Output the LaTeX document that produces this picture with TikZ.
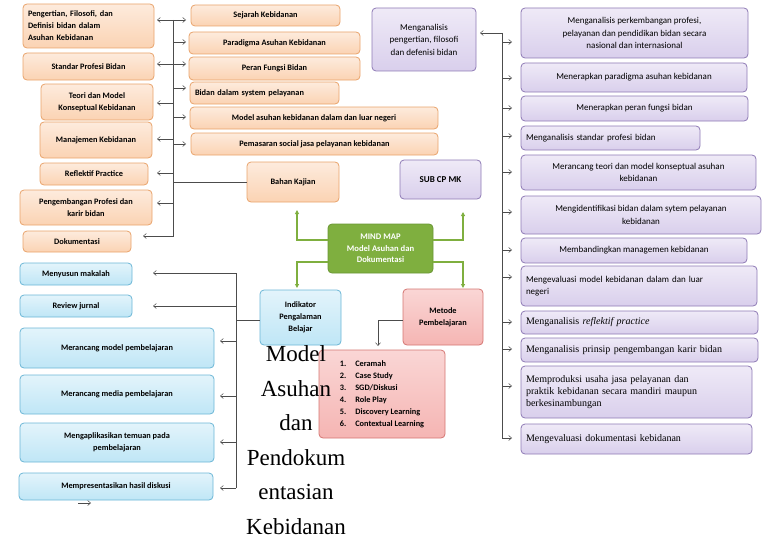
\documentclass[tikz,border=0pt]{standalone}
\usepackage{fontspec}
\setmainfont{Carlito}
\newfontfamily\serif{Liberation Serif}
\usetikzlibrary{arrows.meta}
\definecolor{orF}{HTML}{FBD3B3}\definecolor{orT}{HTML}{FDEBDD}\definecolor{orD}{HTML}{E9A36B}
\definecolor{puF}{HTML}{D9CFEC}\definecolor{puT}{HTML}{EFEAF7}\definecolor{puD}{HTML}{8E7AB5}
\definecolor{blF}{HTML}{BFE6F6}\definecolor{blT}{HTML}{E3F4FB}\definecolor{blD}{HTML}{6BB6D6}
\definecolor{gnF}{HTML}{7FAF3F}\definecolor{gnD}{HTML}{6A9634}
\definecolor{pkF}{HTML}{F5B5B3}\definecolor{pkT}{HTML}{FAD6D5}\definecolor{pkD}{HTML}{D57672}
\tikzset{
 base/.style={rounded corners=4pt, line width=0.8pt, inner sep=2pt, align=center, font=\fontsize{8.3}{12}\selectfont\bfseries},
 ob/.style={base, draw=orD, top color=orT, bottom color=orF},
 pb/.style={base, draw=puD, top color=puT, bottom color=puF, font=\fontsize{9}{12.5}\selectfont},
 sb/.style={pb, font=\serif\fontsize{10}{12}\selectfont},
 bb/.style={base, draw=blD, top color=blT, bottom color=blF},
 gb/.style={base, draw=gnD, fill=gnF, text=white, font=\fontsize{8.6}{11.5}\selectfont\bfseries},
 kb/.style={base, draw=pkD, top color=pkT, bottom color=pkF},
 arr/.style={-{Straight Barb[length=3pt,width=5pt]}, draw=gray!60!black, line width=0.5pt},
 ln/.style={draw=gray!60!black, line width=0.8pt},
 garr/.style={-{Triangle[length=4pt,width=4pt]}, draw=gnF, line width=1.8pt},
}
\newcommand{\bx}[8][center]{%
 \pgfmathsetmacro\bw{#6-#4}\pgfmathsetmacro\bh{#7-#5}%
 \node[#3, minimum width=\bw pt, minimum height=\bh pt, align=#1] (#2) at ({(#4+#6)/2},{(#5+#7)/2}) {#8};}
\newcommand{\lbx}[7]{%
 \pgfmathsetmacro\bw{#5-#3}\pgfmathsetmacro\bh{#6-#4}\pgfmathsetmacro\tw{#5-#3-10}%
 \node[#2, minimum width=\bw pt, minimum height=\bh pt, text width=\tw pt, align=left] (#1) at ({(#3+#5)/2},{(#4+#6)/2}) {#7};}
\begin{document}
\begin{tikzpicture}[x=1pt,y=-1pt]
\useasboundingbox (0,0) rectangle (768,543);
% left orange
\lbx{o1}{ob}{23}{4}{154}{48}{Pengertian, Filosofi, dan\\Definisi bidan dalam\\Asuhan Kebidanan}
\bx{o2}{ob}{23}{53}{154}{80}{Standar Profesi Bidan}
\bx{o3}{ob}{41}{84}{153}{120}{Teori dan Model\\Konseptual Kebidanan}
\bx{o4}{ob}{40}{122}{152}{158}{Manajemen Kebidanan}
\bx{o5}{ob}{40}{163}{148}{185}{Reflektif Practice}
\bx{o6}{ob}{20}{190}{152}{225}{Pengembangan Profesi dan\\karir bidan}
\bx{o7}{ob}{23}{231}{131}{252}{Dokumentasi}
% middle orange
\bx{m1}{ob}{191}{5}{340}{26}{Sejarah Kebidanan}
\bx{m2}{ob}{189}{32}{360}{54}{Paradigma Asuhan Kebidanan}
\bx{m3}{ob}{189}{57}{360}{80}{Peran Fungsi Bidan}
\lbx{m4}{ob}{190}{82}{339}{104}{Bidan dalam system pelayanan}
\bx{m5}{ob}{190}{107}{438}{129}{Model asuhan kebidanan dalam dan luar negeri}
\bx{m6}{ob}{191}{133}{438}{155}{Pemasaran social jasa pelayanan kebidanan}
\bx{bk}{ob}{247}{162}{339}{202}{Bahan Kajian}
\draw[ln] (173,20) -- (173,237);
\draw[ln] (173,182) -- (bk.west);
\foreach \y in {20,64,103,139,173,203}{\draw[arr] (173,\y) -- (157,\y);}
\draw[arr] (173,236) -- (143,236);
\foreach \y in {20,42,64,88,117,144}{\draw[arr] (173,\y) -- (186,\y);}
% purple
\bx{p0}{pb}{372}{8}{476}{71}{Menganalisis\\pengertian, filosofi\\dan defenisi bidan}
\bx{sub}{pb}{400}{160}{481}{199}{\bfseries SUB CP MK}
\bx{r1}{pb}{521}{8}{748}{58}{Menganalisis perkembangan profesi,\\pelayanan dan pendidikan bidan secara\\nasional dan internasional}
\bx{r2}{pb}{521}{63}{747}{92}{Menerapkan paradigma asuhan kebidanan}
\bx{r3}{pb}{521}{96}{748}{121}{Menerapkan peran fungsi bidan}
\lbx{r4}{pb}{521}{126}{700}{150}{Menganalisis standar profesi bidan}
\bx{r5}{pb}{521}{155}{756}{190}{Merancang teori dan model konseptual asuhan\\kebidanan}
\bx{r6}{pb}{521}{196}{761}{234}{Mengidentifikasi bidan dalam sytem pelayanan\\kebidanan}
\bx{r7}{pb}{521}{238}{747}{263}{Membandingkan managemen kebidanan}
\lbx{r8}{pb}{521}{266}{757}{306}{Mengevaluasi model kebidanan dalam dan luar\\negeri}
\lbx{r9}{sb}{521}{311}{758}{334}{Menganalisis \textit{reflektif practice}}
\lbx{r10}{sb}{521}{338}{758}{362}{Menganalisis prinsip pengembangan karir bidan}
\lbx{r11}{sb}{521}{366}{752}{418}{Memproduksi usaha jasa pelayanan dan\\praktik kebidanan secara mandiri maupun\\berkesinambungan}
\lbx{r12}{sb}{521}{424}{752}{454}{Mengevaluasi dokumentasi kebidanan}
\draw[ln] (502,33) -- (502,438) -- (510,438);
\draw[arr] (502,33) -- (480,33);
\foreach \y in {42,78,108,136,172,212,250,277,322,349,386,438}{\draw[arr] (502,\y) -- (512,\y);}
% green center
\bx{mm}{gb}{328}{224}{433}{273}{MIND MAP\\Model Asuhan dan\\Dokumentasi}
\draw[garr] (mm.west|-0,240) -| (297,210);
\draw[garr] (mm.east|-0,240) -| (463,212);
\draw[garr] (mm.west|-0,262) -| (297,288);
\draw[garr] (mm.east|-0,262) -| (463,288);
\bx{ind}{bb}{260}{290}{341}{345}{Indikator\\Pengalaman\\Belajar}
\bx{met}{kb}{403}{289}{483}{345}{Metode\\Pembelajaran}
\node[kb, minimum width=126pt, minimum height=88pt, align=left, font=\fontsize{8.3}{12}\selectfont\bfseries] (lst) at (382,394) {%
\begin{tabular}{@{}r@{\hspace{9pt}}l@{}}1.&Ceramah\\2.&Case Study\\3.&SGD/Diskusi\\4.&Role Play\\5.&Discovery Learning\\6.&Contextual Learning\end{tabular}};
\draw[arr] (met.west|-0,320) -| (378,346);
% left blue
\bx{b1}{bb}{20}{263}{132}{285}{Menyusun makalah}
\bx{b2}{bb}{20}{295}{132}{317}{Review jurnal}
\bx{b3}{bb}{20}{328}{214}{368}{Merancang model pembelajaran}
\bx{b4}{bb}{20}{375}{214}{414}{Merancang media pembelajaran}
\bx{b5}{bb}{20}{423}{214}{462}{Mengaplikasikan temuan pada\\pembelajaran}
\bx{b6}{bb}{19}{473}{213}{500}{Mempresentasikan hasil diskusi}
\draw[ln] (236,273) -- (236,488);
\draw[ln] (ind.west|-0,320) -- (236,320);
\draw[arr] (236,273) -- (153,273);
\draw[arr] (236,306) -- (153,306);
\foreach \y in {341,396,442,488}{\draw[arr] (236,\y) -- (220,\y);}
\coordinate (s1) at (78,503); \coordinate (s2) at (91,503);
\draw[arr] (s1) -- (s2);
% big text
\node[font=\serif\fontsize{23}{34.5}\selectfont, align=center, inner sep=0pt] (big) at (296,440) {Model\\Asuhan\\dan\\Pendokum\\entasian\\Kebidanan};
\end{tikzpicture}
\end{document}
